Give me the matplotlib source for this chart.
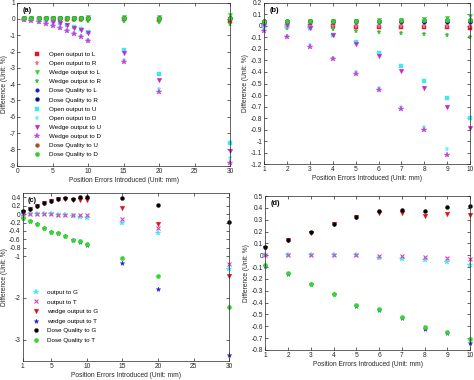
import numpy as np
import matplotlib
matplotlib.use("Agg")
import matplotlib.pyplot as plt

plt.rcParams['font.family'] = ['Liberation Sans', 'DejaVu Sans']
plt.rcParams['axes.unicode_minus'] = False

x_err = [1, 2, 3, 4, 5, 6, 7, 8, 9, 10, 15, 20, 30]

# ---- Panel (a)/(b) data ----
open_L   = [0.0, -0.005, -0.005, -0.005, -0.01, -0.01, -0.01, -0.01, -0.01, -0.015, -0.03, -0.05, -0.12]
open_R   = [0.0, 0.0, 0.0, 0.0, 0.0, 0.0, 0.0, 0.0, 0.0, 0.0, 0.0, 0.0, 0.0]
wedge_L  = [0.03, 0.035, 0.04, 0.04, 0.045, 0.05, 0.055, 0.06, 0.07, 0.09, 0.12, 0.15, 0.22]
wedge_R  = [0.0, -0.02, -0.02, -0.03, -0.045, -0.05, -0.06, -0.07, -0.08, -0.095, -0.15, -0.2, -0.33]
dose_L   = [0.03, 0.03, 0.03, 0.03, 0.03, 0.03, 0.03, 0.03, 0.03, 0.03, 0.03, 0.03, 0.03]
dose_R   = [0.04, 0.04, 0.04, 0.04, 0.04, 0.04, 0.04, 0.04, 0.04, 0.04, 0.04, 0.04, 0.05]
open_U   = [0.0, 0.0, -0.02, -0.08, -0.14, -0.235, -0.35, -0.48, -0.63, -0.80, -1.9, -3.39, -7.59]
open_D   = [-0.03, -0.09, -0.17, -0.275, -0.40, -0.54, -0.70, -0.875, -1.07, -1.3, -2.53, -4.3, -8.55]
wedge_U  = [0.005, 0.005, -0.02, -0.08, -0.16, -0.26, -0.39, -0.535, -0.70, -0.885, -2.08, -3.73, -8.1]
wedge_D  = [-0.04, -0.10, -0.18, -0.29, -0.415, -0.56, -0.72, -0.905, -1.12, -1.35, -2.67, -4.45, -8.82]
dose_U   = [0.04, 0.04, 0.04, 0.04, 0.04, 0.045, 0.045, 0.05, 0.05, 0.05, 0.05, 0.05, 0.05]
dose_D   = [0.04, 0.04, 0.045, 0.045, 0.045, 0.045, 0.05, 0.05, 0.05, 0.05, 0.05, 0.06, 0.06]

# ---- Panel (c)/(d) data ----
out_G    = [0.0, 0.0, 0.0, 0.0, 0.0, -0.02, -0.03, -0.04, -0.06, -0.08, -0.22, -0.46, -1.31]
out_T    = [0.0, 0.0, 0.0, 0.0, 0.0, -0.01, -0.01, -0.015, -0.02, -0.03, -0.12, -0.32, -1.19]
wedgeG   = [0.06, 0.13, 0.19, 0.26, 0.32, 0.36, 0.36, 0.33, 0.35, 0.34, 0.14, -0.24, -1.48]
wedgeT   = [-0.09, -0.16, -0.24, -0.33, -0.43, -0.46, -0.53, -0.62, -0.66, -0.74, -1.16, -1.78, -3.37]
doseG    = [0.07, 0.13, 0.20, 0.26, 0.32, 0.37, 0.38, 0.37, 0.41, 0.42, 0.38, 0.21, -0.19]
doseT    = [-0.08, -0.15, -0.24, -0.33, -0.42, -0.45, -0.52, -0.61, -0.65, -0.71, -1.04, -1.47, -2.22]

labels_ab = ["Open output to L", "Open output to R", "Wedge output to L", "Wedge output to R",
             "Dose Quality to L", "Dose Quality to R", "Open output to U", "Open output to D",
             "Wedge output to U", "Wedge output to D", "Dose Quality to U", "Dose Quality to D"]
series_ab = [open_L, open_R, wedge_L, wedge_R, dose_L, dose_R, open_U, open_D,
             wedge_U, wedge_D, dose_U, dose_D]
styles_ab = [('s', '#e8102a', 2.6), ('*', '#f07080', 3.6), ('v', '#30d030', 3.0), ('*', '#30c830', 3.6),
             ('o', '#1a1ad0', 2.6), ('o', '#0a0a90', 2.8), ('s', '#40e8f0', 2.8), ('*', '#70f0f0', 3.6),
             ('v', '#d020d0', 3.2), ('*', '#c840d8', 3.8), ('o', '#a0522d', 2.8), ('o', '#30d030', 3.0)]

labels_cd = ["output to G", "output to T", "wedge output to G", "wedge output to T",
             "Dose Quality to G", "Dose Quality to T"]
series_cd = [out_G, out_T, wedgeG, wedgeT, doseG, doseT]
styles_cd = [('*', '#40e8f0', 3.8), ('x', '#e040c0', 3.0), ('v', '#e01010', 3.2), ('*', '#1a1ad8', 3.4),
             ('o', '#000000', 2.8), ('o', '#30d830', 3.0)]

fig = plt.figure(figsize=(4.74, 3.80), dpi=100)

axes_pos = {
    'a': [0.0365, 0.564, 0.449, 0.429],
    'b': [0.5576, 0.568, 0.434, 0.4245],
    'c': [0.0479, 0.0508, 0.436, 0.4405],
    'd': [0.5597, 0.079, 0.432, 0.405],
}

FS = 4.8

def setup(ax, xlim, ylim, xticks, yticks, tag):
    ax.set_xlim(*xlim)
    ax.set_ylim(*ylim)
    ax.set_xticks(xticks)
    ax.set_xticklabels([f"{t:g}" for t in xticks])
    ax.set_yticks(yticks)
    ax.set_yticklabels([("0" if abs(t) < 1e-9 else f"{t:g}") for t in yticks])
    ax.tick_params(direction='in', top=True, right=True, labelsize=FS, length=2.2,
                   width=0.5, pad=1.5, colors='#262626')
    for s in ax.spines.values():
        s.set_linewidth(0.5)
        s.set_color('#262626')
    ax.set_xlabel("Position Errors Introduced (Unit: mm)", fontsize=FS, labelpad=1.5, color='#262626')
    ax.set_ylabel("Difference (Unit: %)", fontsize=FS, labelpad=1.0, color='#262626')
    ax.text(0.025, 0.975, tag, transform=ax.transAxes, fontsize=FS + 0.5, fontweight='bold',
            va='top', ha='left')

def draw(ax, series, styles, labels, ylim):
    lo, hi = ylim
    for ys, (m, c, ms), lab in zip(series, styles, labels):
        y = np.array(ys, dtype=float)
        y = np.where((y < lo) | (y > hi), np.nan, y)
        kw = dict(linestyle='none', marker=m, markersize=ms, color=c, label=lab, clip_on=False)
        if m == 'x':
            kw['markeredgewidth'] = 0.8
        else:
            kw['markeredgewidth'] = 0.3
        ax.plot(x_err, y, **kw)

# (a)
ax_a = fig.add_axes(axes_pos['a'])
draw(ax_a, series_ab, styles_ab, labels_ab, (-9, 1))
setup(ax_a, (0, 30), (-9, 1), [0, 5, 10, 15, 20, 25, 30], list(range(1, -10, -1)), '(a)')
ax_a.legend(loc='upper left', bbox_to_anchor=(0.065, 0.715), frameon=False, fontsize=4.5,
            labelspacing=0.6, handletextpad=1.2, handlelength=1.2, borderaxespad=0, markerscale=1.0)

# (b)
ax_b = fig.add_axes(axes_pos['b'])
draw(ax_b, series_ab, styles_ab, labels_ab, (-1.2, 0.2))
setup(ax_b, (1, 10), (-1.2, 0.2), list(range(1, 11)),
      [round(v, 1) for v in np.arange(0.2, -1.25, -0.1)], '(b)')

# (c)
ax_c = fig.add_axes(axes_pos['c'])
draw(ax_c, series_cd, styles_cd, labels_cd, (-3.5, 0.5))
setup(ax_c, (1, 30), (-3.5, 0.5), [1, 5, 10, 15, 20, 25, 30],
      [0.4, 0.2, 0, -0.2, -0.4, -0.6, -0.8, -1, -2, -3], '(c)')
ax_c.legend(loc='upper left', bbox_to_anchor=(0.035, 0.44), frameon=False, fontsize=4.5,
            labelspacing=0.68, handletextpad=1.2, handlelength=1.2, borderaxespad=0)

# (d)
ax_d = fig.add_axes(axes_pos['d'])
draw(ax_d, series_cd, styles_cd, labels_cd, (-0.8, 0.5))
setup(ax_d, (1, 10), (-0.8, 0.5), list(range(1, 11)),
      [round(v, 1) for v in np.arange(0.5, -0.85, -0.1)], '(d)')

fig.savefig("out.png", dpi=100)
